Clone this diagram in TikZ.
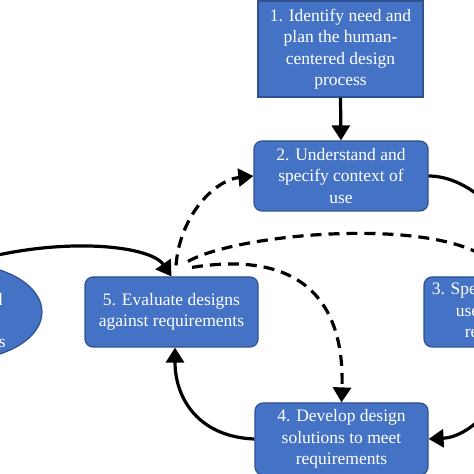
\documentclass[tikz,border=0pt]{standalone}
\usepackage{fontspec}
\setmainfont{Liberation Serif}
\usetikzlibrary{arrows.meta,shapes.geometric}
\definecolor{boxblue}{HTML}{4472C4}
\definecolor{boxedge}{HTML}{2F528F}
\begin{document}
\begin{tikzpicture}[x=1pt,y=1pt,
  stepbox/.style={draw=boxedge, line width=1.2pt, fill=boxblue, text=white, align=center,
    font=\fontsize{17.5}{21.5}\selectfont, inner sep=0pt},
  roundbox/.style={stepbox, rounded corners=8pt, minimum width=173pt, minimum height=70pt},
  flow/.style={line width=3.2pt, -{Triangle[length=15pt,width=18pt]}},
  iter/.style={flow, dash pattern=on 11pt off 7pt},
]
\useasboundingbox (0,0) rectangle (474,474);
\clip (0,0) rectangle (474,474);
% nodes
\node[stepbox, minimum width=165pt, minimum height=96pt] (b1) at (340.5,425)
  {1. Identify need and\\plan the human-\\centered design\\process};
\node[roundbox, minimum width=174pt] (b2) at (341,298)
  {2. Understand and\\specify context of\\use};
\node[roundbox] (b3) at (510.5,162)
  {3. Specify stakeholder\\user experience\\requirements};
\node[roundbox, minimum height=72pt] (b4) at (341.5,35)
  {4. Develop design\\solutions to meet\\requirements};
\node[roundbox] (b5) at (171.5,162)
  {5. Evaluate designs\\against requirements};
\node[stepbox, ellipse, minimum width=164pt, minimum height=96pt] (b6) at (-40,162) {};
\node[text=white, align=center, font=\fontsize{17.5}{21}\selectfont] (b6t) at (-40,152)
  {6. Designed\\meets user\\requirements};
% free ends
\coordinate (lft) at (-30,212);
\coordinate (f2) at ([shift={(4.5,11)}]b5.north);
\coordinate (f3) at ([shift={(16.5,15)}]b5.north);
\coordinate (f4) at ([shift={(20.5,9)}]b5.north);
\coordinate (b3a) at ([xshift=5pt]b3.north);
\coordinate (b3b) at ([xshift=-5pt]b3.north);
\coordinate (b5s) at ([xshift=3.5pt]b5.south);
% solid connectors
\draw[flow] (b1.south) -- (b2.north);
\draw[flow] (b2.east) .. controls (470,298) and (515,254) .. (b3a);
\draw[flow] (b3.south) .. controls (510,74) and (470,37) .. (b4.east);
\draw[flow] (b4.west) .. controls (200,37) and (175,74) .. (b5s);
\draw[flow] (lft) .. controls (60,238) and (150,229) .. (b5.north);
% dashed iteration connectors
\draw[iter] (f2) .. controls (180,259) and (215,294) .. (b2.west);
\draw[iter] (f3) .. controls (240,242) and (450,259) .. (b3b);
\draw[iter] (f4) .. controls (300,224) and (345,174) .. (b4.north);
\end{tikzpicture}
\end{document}
